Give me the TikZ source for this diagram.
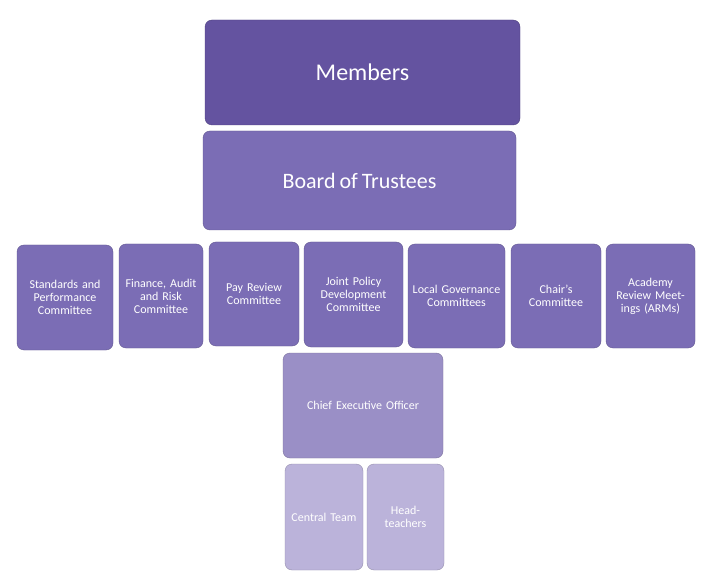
\documentclass[tikz,border=0pt]{standalone}
\usepackage{fontspec}
\setmainfont{Carlito}
\definecolor{cA}{HTML}{6453A0}
\definecolor{cB}{HTML}{7B6DB5}
\definecolor{cC}{HTML}{9A8FC6}
\definecolor{cD}{HTML}{BBB3DA}
\tikzset{
 bx/.style={rounded corners=7pt,fill=#1,draw=#1!80!black,line width=0.4pt},
 lb/.style={text=white,align=center,font=\fontsize{12}{13}\selectfont}
}
\newcommand{\bxx}[7]{%
 \draw[bx=#5] (#1,#2) rectangle (#3,#4);
 \node[lb,text width=#3pt-#1pt-4pt] (#6) at ({(#1+#3)/2},{(#2+#4)/2}) {#7};}
\begin{document}
\begin{tikzpicture}[x=1pt,y=-1pt]
\useasboundingbox[fill=white] (0,0) rectangle (710,588);
\bxx{205}{20}{520}{125}{cA}{mem}{\fontsize{24}{28}\selectfont Members}
\bxx{203}{131}{516}{230}{cB}{bot}{\fontsize{22}{26}\selectfont Board of Trustees}
\bxx{17}{245}{113}{350}{cB}{c1}{Standards and Performance Committee}
\bxx{119}{244}{203}{348}{cB}{c2}{Finance, Audit and Risk Committee}
\bxx{209}{242}{299}{346}{cB}{c3}{Pay Review Committee}
\bxx{304}{242}{403}{347}{cB}{c4}{Joint Policy Development Committee}
\bxx{408}{244}{505}{348}{cB}{c5}{Local Governance Committees}
\bxx{511}{244}{601}{348}{cB}{c6}{Chair's Committee}
\bxx{606}{244}{695}{348}{cB}{c7}{Academy Review Meetings (ARMs)}
\bxx{283}{353}{443}{458}{cC}{ceo}{Chief Executive Officer}
\bxx{285}{464}{363}{570}{cD}{ct}{Central Team}
\bxx{367}{464}{444}{570}{cD}{ht}{Head-\\teachers}
\end{tikzpicture}
\end{document}
